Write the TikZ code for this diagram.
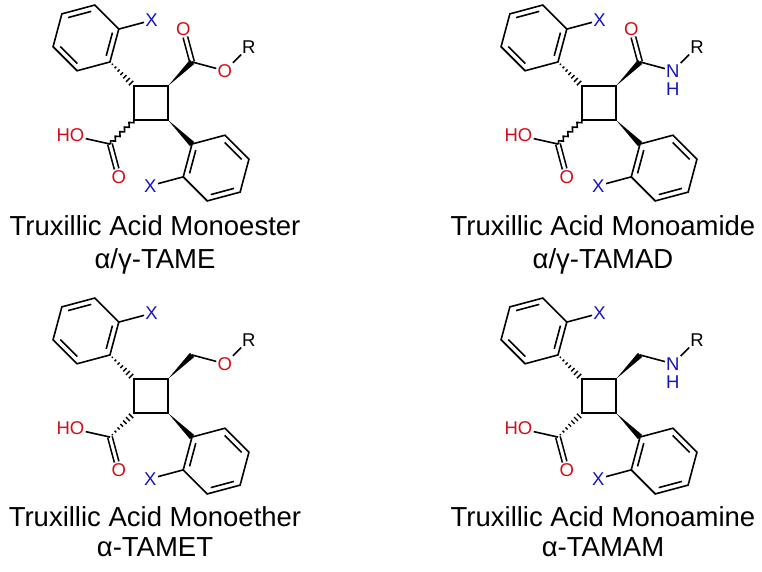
\documentclass[tikz,border=0pt]{standalone}
\usepackage{fontspec}
\setmainfont{Liberation Sans}
\usetikzlibrary{calc}
\usetikzlibrary{positioning}
\usetikzlibrary{decorations.pathmorphing}

\definecolor{ored}{RGB}{210,15,25}
\definecolor{xblue}{RGB}{20,20,190}

\tikzset{
  bond/.style={line width=1.6pt},
  dbl/.style={shorten <=2pt, shorten >=2pt},
  dbond/.style={double, double distance=3pt},
  hash/.style={line width=1.4pt},
  wavy/.style={decorate, decoration={snake, amplitude=1.8pt, segment length=6.5pt}},
  atom/.style={inner sep=1.2pt, font=\fontsize{18.5}{20}\selectfont},
  oxy/.style={atom, text=ored},
  xsub/.style={atom, text=xblue},
  nit/.style={atom, text=xblue},
  caption/.style={anchor=base, font=\fontsize{27.5}{30}\selectfont},
}

% bold wedge, narrow at #1, wide at #2
\newcommand{\tawedge}[2]{\fill (#1) -- ($(#2)!3pt!90:(#1)$) -- ($(#2)!3pt!-90:(#1)$) -- cycle;}
% hashed wedge, wide at #1, narrow at #2
\newcommand{\tahash}[2]{%
  \foreach \hp/\hw in {0.1/0.7pt,0.23/1.1pt,0.36/1.5pt,0.49/1.9pt,0.62/2.3pt,0.75/2.7pt,0.88/3.1pt}
    {\coordinate (hh) at ($(#2)!\hp!(#1)$);
     \draw[hash] ($(hh)!\hw!90:(#1)$) -- ($(hh)!\hw!-90:(#1)$);}}

% cyclobutane with both aryl rings and the acid group
\newcommand{\tacore}[1]{%
  \coordinate (#1a1) at (0,0);
  \coordinate (#1a2) at (34,0);
  \coordinate (#1a3) at (0,-34);
  \coordinate (#1a4) at (34,-34);
  \draw[bond] (#1a1) -- (#1a2) -- (#1a4) -- (#1a3) -- cycle;
  % upper aryl
  \begin{scope}[shift={(135:68)}]
    \coordinate (#1p1) at (315:34);
    \coordinate (#1m1) at (15:34);
    \draw[bond] (315:34) -- (15:34) -- (75:34) -- (135:34) -- (195:34) -- (255:34) -- cycle;
    \foreach \ang in {315,75,195} \draw[bond,dbl] (\ang:28) -- (\ang+60:28);
    \node[xsub] (#1x1) at (15:68) {X};
  \end{scope}
  \draw[bond] (#1m1) -- (#1x1);
  \tahash{#1a1}{#1p1}
  % lower aryl
  \begin{scope}[shift={(82.08,-82.08)}]
    \coordinate (#1p2) at (135:34);
    \coordinate (#1m2) at (195:34);
    \draw[bond] (135:34) -- (75:34) -- (15:34) -- (-45:34) -- (-105:34) -- (-165:34) -- cycle;
    \foreach \ang in {135,15,255} \draw[bond,dbl] (\ang:28) -- (\ang+60:28);
    \node[xsub] (#1x2) at (195:68) {X};
  \end{scope}
  \draw[bond] (#1m2) -- (#1x2);
  \tawedge{#1a4}{#1p2}
  % acid
  \coordinate (#1q) at ($(#1a3)+(225:34)$);
  \node[oxy] (#1o1) at ($(#1q)+(-75:34)$) {O};
  \node[oxy] (#1o2) at ($(#1q)+(165:34)+(-6.7,0)$) {HO};
  \draw[bond,dbond] (#1q) -- (#1o1);
  \draw[bond] (#1q) -- (#1o2);
}

\begin{document}
\begin{tikzpicture}[x=1pt,y=1pt]
\useasboundingbox (0,0) rectangle (762,572);

% monoester
\begin{scope}[shift={(134,486)}]
  \tacore{e}
  \draw[bond,wavy] (ea3) -- (eq);
  \coordinate (ek) at ($(ea2)+(45:34)$);
  \node[oxy] (eo3) at ($(ek)+(105:34)$) {O};
  \node[oxy] (eo4) at ($(ek)+(-15:34)$) {O};
  \node[atom] (er) at ($(eo4)+(45:34)$) {R};
  \draw[bond,dbond] (ek) -- (eo3);
  \draw[bond] (ek) -- (eo4);
  \draw[bond] (eo4) -- (er);
  \tawedge{ea2}{ek}
\end{scope}

% monoamide
\begin{scope}[shift={(582,486)}]
  \tacore{d}
  \draw[bond,wavy] (da3) -- (dq);
  \coordinate (dk) at ($(da2)+(45:34)$);
  \node[oxy] (do3) at ($(dk)+(105:34)$) {O};
  \node[nit] (dn) at ($(dk)+(-15:34)$) {N};
  \node[nit, below=2.5pt of dn] (dh) {H};
  \node[atom] (dr) at ($(dn)+(45:34)$) {R};
  \draw[bond,dbond] (dk) -- (do3);
  \draw[bond] (dk) -- (dn);
  \draw[bond] (dn) -- (dr);
  \tawedge{da2}{dk}
\end{scope}

% monoether
\begin{scope}[shift={(134,193)}]
  \tacore{t}
  \tahash{ta3}{tq}
  \coordinate (tk) at ($(ta2)+(45:34)$);
  \node[oxy] (to4) at ($(tk)+(-15:34)$) {O};
  \node[atom] (tr) at ($(to4)+(45:34)$) {R};
  \draw[bond] (tk) -- (to4);
  \draw[bond] (to4) -- (tr);
  \tawedge{ta2}{tk}
\end{scope}

% monoamine
\begin{scope}[shift={(582,193)}]
  \tacore{m}
  \tahash{ma3}{mq}
  \coordinate (mk) at ($(ma2)+(45:34)$);
  \node[nit] (mn) at ($(mk)+(-15:34)$) {N};
  \node[nit, below=2.5pt of mn] (mh) {H};
  \node[atom] (mr) at ($(mn)+(45:34)$) {R};
  \draw[bond] (mk) -- (mn);
  \draw[bond] (mn) -- (mr);
  \tawedge{ma2}{mk}
\end{scope}

\node[caption] (n1) at (155,336) {Truxillic Acid Monoester};
\node[caption] (t1) at (155,303) {α/γ-TAME};
\node[caption] (n2) at (603,336) {Truxillic Acid Monoamide};
\node[caption] (t2) at (603,303) {α/γ-TAMAD};
\node[caption] (n3) at (155,45) {Truxillic Acid Monoether};
\node[caption] (t3) at (155,15) {α-TAMET};
\node[caption] (n4) at (603,45) {Truxillic Acid Monoamine};
\node[caption] (t4) at (603,15) {α-TAMAM};
\end{tikzpicture}
\end{document}
